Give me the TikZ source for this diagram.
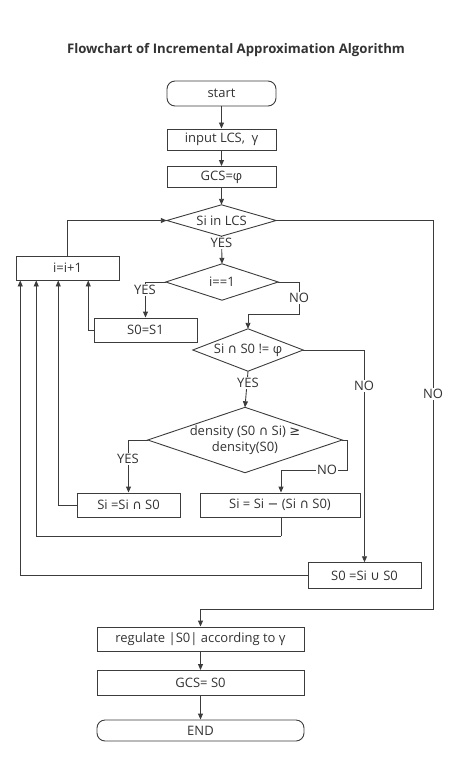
\documentclass[tikz,border=0pt]{standalone}
\usepackage{fontspec}
\setmainfont{Open Sans}
\newfontfamily\symfont{DejaVu Sans}
\usetikzlibrary{arrows.meta,positioning}
\definecolor{ink}{HTML}{333333}
\definecolor{wire}{HTML}{3C3C3C}
\newcommand{\capop}{{\symfont ∩}}
\newcommand{\cupop}{{\symfont ∪}}

\begin{document}
\begin{tikzpicture}[x=1pt,y=-1pt,
    font=\fontsize{13}{16}\selectfont, text=ink,
    box/.style={draw=wire, line width=0.9pt, minimum height=24pt, inner sep=1pt},
    term/.style={box, rounded corners=8pt},
    cond/.style={inner sep=0pt, align=center},
    flow/.style={draw=wire, line width=0.9pt, -{Triangle[length=6pt,width=5pt]}},
    wire/.style={draw=wire, line width=0.9pt},
    lbl/.style={fill=white, inner sep=1pt}]
  \useasboundingbox (0,0) rectangle (474,765);
  % title
  \node[font=\fontsize{13.2}{16}\selectfont\bfseries] (title) at (236,50.5)
    {Flowchart of Incremental Approximation Algorithm};
  % main column
  \node[term, minimum width=109pt, minimum height=25pt] (start) at (221.5,93.5) {start};
  \node[box, minimum width=109pt, minimum height=21pt] (input) at (221.5,139.5) {input LCS,\enspace γ};
  \node[box, minimum width=109pt, minimum height=21pt] (gcs0) at (221.5,177) {GCS=φ};
  \node[cond, minimum width=109pt, minimum height=31pt] (lcs) at (221.5,220.5) {Si in LCS};
  \node[cond, minimum width=112pt, minimum height=36pt] (one) at (222,282) {i==1};
  \node[box, minimum width=103pt] (inc) at (67.5,268) {i=i+1};
  \node[box, minimum width=103pt] (s0s1) at (145.5,330) {S0=S1};
  \node[cond, minimum width=110pt, minimum height=42pt] (inter) at (248,350) {Si \capop\ S0 != φ};
  \node[cond, minimum width=194pt, minimum height=65pt] (dens) at (245,440)
    {density (S0 \capop\ Si) {\symfont ≥}\\density(S0)};
  \node[box, minimum width=103pt] (sisi) at (128.5,505) {Si =Si \capop\ S0};
  \node[box, minimum width=160pt] (diff) at (280,505) {Si = Si {\symfont −} (Si \capop\ S0)};
  \node[box, minimum width=113pt, minimum height=26pt] (union) at (364.5,575.7) {S0 =Si \cupop\ S0};
  \node[box, minimum width=207pt] (regulate) at (200.5,639) {regulate |S0| according to γ};
  \node[box, minimum width=207pt, minimum height=25pt] (gcs) at (200.5,683) {GCS= S0};
  \node[term, minimum width=207pt, minimum height=21pt] (end) at (200.5,730.5) {END};
  % diamonds
  \foreach \d in {lcs,one,inter,dens}
    \draw[wire] (\d.north) -- (\d.east) -- (\d.south) -- (\d.west) -- cycle;
  % turning points
  \coordinate (oneTurn) at (299,314);
  \coordinate (densTurn) at (347,470);
  \coordinate (diffTurn) at (281,536);
  \coordinate (lcsTurn) at (433,609);
  % straight arrows
  \draw[flow] (start) -- (input);
  \draw[flow] (input) -- (gcs0);
  \draw[flow] (gcs0) -- (lcs.north);
  \draw[flow] (lcs.south) -- (one.north);
  \draw[flow] (inter.south) -- (dens.north);
  \draw[flow] (regulate) -- (gcs);
  \draw[flow] (gcs) -- (end);
  % branches
  \draw[flow] (one.west) -| (s0s1.north);
  \draw[flow] (one.east) -| (oneTurn) -| (inter.north);
  \draw[flow] (inter.east) -| (union.north);
  \draw[flow] (dens.west) -| (sisi.north);
  \draw[flow] (dens.east) -| (densTurn) -| ([xshift=1pt]diff.north);
  \draw[flow] (lcs.east) -| (lcsTurn) -| (regulate.north);
  % back to i=i+1
  \draw[flow] (inc.north) |- (lcs.west);
  \draw[flow] (s0s1.west) -| ([xshift=72.7pt]inc.south west);
  \draw[flow] (sisi.west) -| ([xshift=42.7pt]inc.south west);
  \draw[wire] ([xshift=1pt]diff.south) -- (diffTurn);
  \draw[flow] (diffTurn) -| ([xshift=20.7pt]inc.south west);
  \draw[flow] (union.west) -| ([xshift=4.7pt]inc.south west);
  % labels
  \node[lbl] (yesLcs) at (221.5,243) {YES};
  \node[lbl] (yesOne) at (145,290) {YES};
  \node[lbl] (noOne) at (299,298) {NO};
  \node[lbl] (yesInter) at (248,383) {YES};
  \node[lbl] (noInter) at (364,386) {NO};
  \node[lbl] (noLcs) at (433,394) {NO};
  \node[lbl] (yesDens) at (128,459) {YES};
  \node[lbl] (noDens) at (327,470) {NO};
\end{tikzpicture}
\end{document}
